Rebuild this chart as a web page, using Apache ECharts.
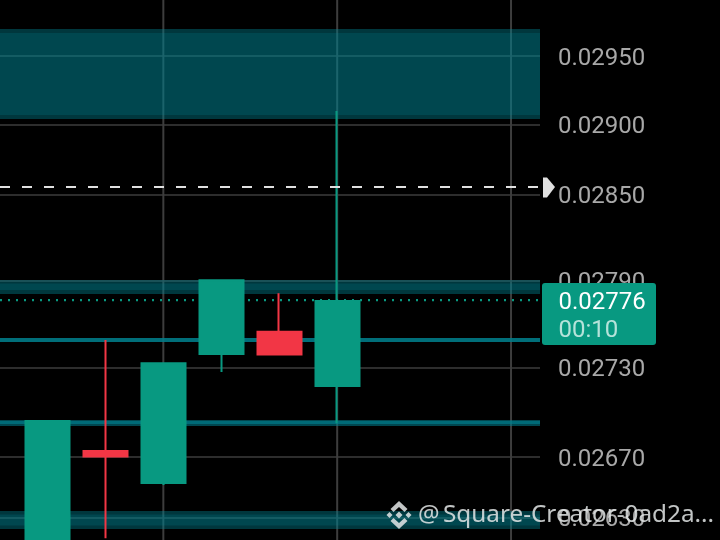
<!DOCTYPE html>
<html><head><meta charset="utf-8">
<style>html,body{margin:0;padding:0;background:#000}#c{width:720px;height:540px}</style>
<script src="https://cdn.jsdelivr.net/npm/echarts@6/dist/echarts.min.js"></script>
</head><body><div id="c"></div>
<script>
const slots = [0,1,2,3,4,5];
const opens  = [0.026025,0.026740,0.026528,0.027393,0.027546,0.027176];
const closes = [0.026940,0.026703,0.027331,0.027901,0.027390,0.027756];
const lows   = [0.026025,0.026167,0.026515,0.027271,0.027390,0.026926];
const highs  = [0.026940,0.027488,0.027331,0.027901,0.027811,0.029099];
const priceTicks = [0.0295,0.029,0.0285,0.0279,0.0273,0.0267,0.0263];
const timeLines = [2,5,8];
const zones = [
  [0.029041,0.029699,'rgba(0,130,145,0.42)'],
  [0.029070,0.029669,'rgba(0,130,145,0.22)'],
  [0.027805,0.027902,'rgba(0,130,145,0.42)'],
  [0.027832,0.027877,'rgba(0,130,145,0.22)'],
  [0.027475,0.027502,'rgba(0,125,138,0.88)'],
  [0.026907,0.026947,'rgba(0,130,145,0.55)'],
  [0.026920,0.026940,'rgba(0,130,145,0.6)'],
  [0.026226,0.026344,'rgba(0,130,145,0.42)'],
  [0.026249,0.026321,'rgba(0,130,145,0.22)']
];
const markPrice = 0.028555;
const lastPrice = 0.027763;
const lastLabel = '0.02776';
const countdown = '00:10';
const watermarkAt = '@';
const watermark = 'Square-Creator-0ad2a...';
const yMin = 0.026155, yMax = 0.029914;
const xMin = -0.8186, xMax = 8.5;
const UP = '#089981', DOWN = '#F23645', FONT = 'Roboto, sans-serif';
const gridCol = '#3d3d3d';

const chart = echarts.init(document.getElementById('c'), null, {renderer:'canvas'});
const hLine = (p,z,lineStyle) => ({type:'line',z,silent:true,symbol:'none',showSymbol:false,
  data:[[xMin,p],[xMax,p]],lineStyle});
chart.setOption({
  animation:false,
  backgroundColor:'#000',
  grid:{left:0,width:540,top:0,height:540,containLabel:false},
  xAxis:{type:'value',min:xMin,max:xMax,
    axisLine:{show:false},axisTick:{show:false},axisLabel:{show:false},splitLine:{show:false}},
  yAxis:{type:'log',logBase:10,min:yMin,max:yMax,position:'right',
    axisLine:{show:false},
    axisTick:{show:false,customValues:priceTicks},
    axisLabel:{customValues:priceTicks,color:'#a8a8a8',fontFamily:FONT,fontSize:24,margin:18,align:'left',
      verticalAlign:'top',lineHeight:5,hideOverlap:false,
      formatter:v=>Number(v).toFixed(5)},
    splitLine:{show:true,lineStyle:{color:gridCol,width:1.5}},
    minorSplitLine:{show:false}},
  series:[
    ...timeLines.map(x=>({type:'line',z:1,silent:true,symbol:'none',showSymbol:false,
      data:[[x,yMin],[x,yMax]],lineStyle:{color:gridCol,width:2}})),
    {type:'line',z:2,data:[],silent:true,
      markArea:{z:2,silent:true,animation:false,label:{show:false},
        data:zones.map(z=>[{yAxis:z[0],itemStyle:{color:z[2]}},{yAxis:z[1]}])}},
    hLine(lastPrice,3,{color:UP,width:2.4,type:[2,6]}),
    {type:'candlestick',z:4,barWidth:44.4,silent:true,
      data:slots.map((x,i)=>[x,opens[i],closes[i],lows[i],highs[i]]),
      itemStyle:{color:UP,color0:DOWN,borderColor:UP,borderColor0:DOWN,borderWidth:2}},
    hLine(markPrice,5,{color:'#e0e0e0',width:2,type:[10,12]})
  ]
});
const py = v => chart.convertToPixel({yAxisIndex:0},v);
const my = py(markPrice), ly = py(lastPrice);
const wm = 'rgba(228,232,232,0.85)';
chart.setOption({graphic:[
  {type:'polygon',z:100,shape:{points:[[543,my-9.5],[547,my-9.5],[555,my],[547,my+10.5],[543,my+10.5]]},style:{fill:'#e0e0e0'}},
  {type:'rect',z:100,shape:{x:542,y:ly-17,width:114,height:62,r:3},style:{fill:UP}},
  {type:'text',z:101,x:558.5,y:ly+3,style:{text:lastLabel,font:'24px '+FONT,fill:'#ffffff',verticalAlign:'middle'}},
  {type:'text',z:101,x:558.5,y:ly+31,style:{text:countdown,font:'24px '+FONT,fill:'#b5e3da',verticalAlign:'middle'}},
  {type:'polygon',z:110,shape:{points:[[399,501],[407.5,509],[404.5,512],[399,507],[393.5,512],[390.5,509]]},style:{fill:wm}},
  {type:'polygon',z:110,shape:{points:[[399,529],[407.5,521],[404.5,518],[399,523],[393.5,518],[390.5,521]]},style:{fill:wm}},
  {type:'polygon',z:110,shape:{points:[[399,511.5],[402.5,515],[399,518.5],[395.5,515]]},style:{fill:wm}},
  {type:'polygon',z:110,shape:{points:[[389.5,512],[392.5,515],[389.5,518],[386.5,515]]},style:{fill:wm}},
  {type:'polygon',z:110,shape:{points:[[408.5,512],[411.5,515],[408.5,518],[405.5,515]]},style:{fill:wm}},
  {type:'text',z:110,x:418,y:515,style:{text:watermarkAt,font:'24px "Noto Sans", sans-serif',fill:wm,verticalAlign:'middle'}},
  {type:'text',z:110,x:443,y:515,style:{text:watermark,font:'24.3px "Noto Sans", sans-serif',fill:wm,verticalAlign:'middle'}}
]});
</script></body></html>
